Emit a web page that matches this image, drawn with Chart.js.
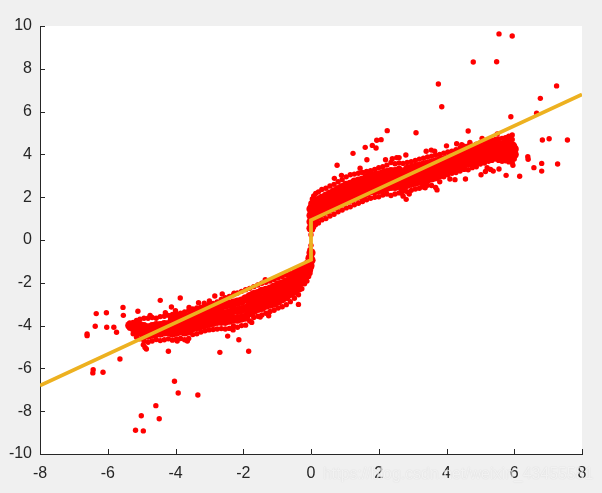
<!DOCTYPE html>
<html>
<head>
<meta charset="utf-8">
<script src="https://cdn.jsdelivr.net/npm/chart.js@4"></script>
<style>
  html, body { margin: 0; padding: 0; background: #f0f0f0; overflow: hidden; }
  #wrap { position: relative; width: 602px; height: 493px; }
  #mark {
    position: absolute; left: 323px; top: 465px; white-space: nowrap;
    font: 15.9px "Liberation Sans", Arial, sans-serif; color: rgba(255,255,255,0.7);
    text-shadow: 0 0 1px rgba(120,120,120,0.3);
  }
</style>
</head>
<body>
<div id="wrap">
  <canvas id="chart" width="602" height="493"></canvas>
  <div id="mark">https://blog.csdn.net/weixin_43455581</div>
</div>
<script>
// ticks
const xTicks = [-8, -6, -4, -2, 0, 2, 4, 6, 8];
const yTicks = [-10, -8, -6, -4, -2, 0, 2, 4, 6, 8, 10];

// fitted line
const lineX = [-8, 0, 0, 8];
const lineY = [-6.8, -0.93, 0.93, 6.8];

// stray points, read one by one (the last ones are bumps on the rim of the cloud)
const strayX = [5.55, 5.94, 4.79, 5.48, 3.76, 3.86, 7.25, 6.77, 6.66, 5.90, 4.64, 3.10, 2.25, 2.07, 1.94, 1.81, 1.92, 1.60, 1.24, 1.65, 0.77, 0.90, 0.69, 2.80, 2.53, 4.69, 5.94, 6.83, 7.03, 7.57, 6.40, 6.41, 6.81, 7.28, 6.58, 6.81, 5.76, 6.16, 4.25, 4.56, 5.02, 5.96, 3.37, 3.72, 2.81, 2.90, 2.68, 5.20, 5.38, 5.55,
  -6.61, -6.61, -6.34, -6.04, -6.37, -6.03, -5.82, -5.74, -5.55, -5.54, -5.11, -4.75, -4.45, -3.86, -4.12, -3.32, -2.84, -2.62, -2.27, -4.90, -4.86, -5.64, -6.43, -6.44, -6.14, -4.21, -2.69, -2.46, -2.13, -1.84, -0.37, -1.25, -4.03, -3.92, -3.34, -4.58, -5.01, -4.48, -5.18, -4.95,
  1.45, 2.20, 2.40, 2.60, 3.40, 3.55, 3.65, 4.00, 4.30, 4.45, 5.05, 5.30, 5.50, 5.82, 2.72, 3.30, 4.10, 5.15, 5.30,
  -4.30, -4.00, -3.60, -3.15, -3.00, -1.35, -4.95, -3.65, -3.95, -2.30, -1.75, -1.50];
const strayY = [9.63, 9.53, 8.32, 8.33, 7.29, 6.23, 7.20, 6.62, 5.92, 5.76, 5.09, 5.01, 5.11, 4.69, 4.66, 4.42, 4.30, 4.33, 4.05, 3.75, 3.49, 3.02, 2.88, 3.97, 3.85, 4.56, 4.91, 4.67, 4.73, 4.67, 3.89, 3.77, 3.58, 3.55, 3.38, 3.22, 3.02, 2.98, 2.82, 2.85, 3.05, 3.49, 2.44, 2.34, 1.90, 2.15, 2.18, 3.38, 3.22, 3.32,
  -4.39, -4.47, -3.44, -3.40, -4.03, -4.08, -4.08, -4.31, -3.15, -3.52, -3.33, -3.52, -2.82, -2.71, -3.13, -2.93, -2.62, -2.52, -2.49, -5.02, -5.09, -5.56, -6.06, -6.21, -6.18, -5.20, -5.25, -4.49, -4.66, -5.20, -3.01, -3.54, -6.60, -7.15, -7.24, -7.74, -8.21, -8.35, -8.89, -8.92,
  3.35, 3.75, 3.80, 3.85, 4.15, 4.20, 4.15, 4.40, 4.50, 4.45, 4.75, 4.70, 4.95, 4.80, 2.30, 2.55, 2.85, 3.20, 3.30,
  -3.40, -3.30, -3.15, -2.95, -2.85, -1.85, -4.90, -4.72, -4.72, -4.20, -3.85, -3.60];

// dense cloud, x>0: one row of y readings per x position
const rightX = [0.00, 0.04, 0.08, 0.14, 0.22, 0.32, 0.44, 0.56, 0.68, 0.80, 0.92, 1.04, 1.16, 1.28, 1.40, 1.52, 1.64, 1.76, 1.88, 2.00, 2.12, 2.24, 2.36, 2.48, 2.60, 2.72, 2.84, 2.96, 3.08, 3.20, 3.32, 3.44, 3.56, 3.68, 3.80, 3.92, 4.04, 4.16, 4.28, 4.40, 4.52, 4.64, 4.76, 4.88, 5.00, 5.12, 5.24, 5.34, 5.44, 5.54, 5.64, 5.74, 5.84, 5.94, 6.00];
const rightY = [
  [0.25, 0.55, 0.85, 1.15, 1.45, 1.72], [0.48, 0.85, 1.2, 1.55, 1.92], [0.62, 1.0, 1.35, 1.7, 2.06],
  [0.72, 1.05, 1.4, 1.75, 2.17], [0.8, 1.15, 1.5, 1.85, 2.25], [0.94, 1.25, 1.6, 1.95, 2.36],
  [1.0, 1.35, 1.7, 2.05, 2.42], [1.12, 1.45, 1.8, 2.15, 2.52], [1.2, 1.55, 1.9, 2.25, 2.6],
  [1.32, 1.65, 2.0, 2.35, 2.72], [1.4, 1.75, 2.1, 2.45, 2.82], [1.5, 1.85, 2.2, 2.55, 2.95],
  [1.55, 1.9, 2.25, 2.6, 3.05], [1.65, 2.0, 2.35, 2.7, 3.08], [1.72, 2.05, 2.4, 2.75, 3.12],
  [1.8, 2.1, 2.45, 2.8, 3.16], [1.88, 2.2, 2.55, 2.9, 3.2], [1.95, 2.3, 2.6, 2.95, 3.24],
  [2.0, 2.3, 2.65, 3.0, 3.3], [2.02, 2.35, 2.7, 3.05, 3.38], [2.1, 2.4, 2.75, 3.1, 3.42],
  [2.15, 2.45, 2.8, 3.15, 3.5], [2.08, 2.5, 2.85, 3.2, 3.62], [2.15, 2.5, 2.85, 3.2, 3.56],
  [2.2, 2.55, 2.9, 3.25, 3.6], [2.05, 2.4, 2.75, 3.1, 3.58], [2.25, 2.6, 2.95, 3.3, 3.62],
  [2.32, 2.65, 3.0, 3.35, 3.66], [2.38, 2.7, 3.05, 3.4, 3.72], [2.42, 2.75, 3.1, 3.45, 3.78],
  [2.48, 2.8, 3.15, 3.5, 3.82], [2.56, 2.85, 3.2, 3.55, 3.88], [2.55, 2.9, 3.25, 3.6, 3.92],
  [2.45, 2.95, 3.3, 3.65, 3.97], [2.72, 3.05, 3.35, 3.7, 4.0], [2.95, 3.15, 3.45, 3.75, 4.06],
  [3.05, 3.25, 3.5, 3.8, 4.12], [3.12, 3.35, 3.6, 3.85, 4.15], [3.15, 3.4, 3.65, 3.95, 4.22],
  [3.22, 3.45, 3.7, 4.0, 4.3], [3.3, 3.55, 3.8, 4.05, 4.38], [3.28, 3.6, 3.85, 4.1, 4.4],
  [3.38, 3.65, 3.9, 4.15, 4.42], [3.42, 3.7, 3.95, 4.2, 4.48], [3.55, 3.75, 4.0, 4.25, 4.55],
  [3.6, 3.8, 4.05, 4.3, 4.58], [3.68, 3.85, 4.1, 4.35, 4.62], [3.72, 3.9, 4.15, 4.4, 4.65],
  [3.78, 3.98, 4.18, 4.45, 4.7], [3.72, 3.95, 4.2, 4.45, 4.72], [3.68, 3.9, 4.15, 4.45, 4.75],
  [3.7, 3.95, 4.2, 4.5, 4.78], [3.65, 3.9, 4.2, 4.5, 4.85], [3.62, 3.9, 4.15, 4.4, 4.7],
  [3.78, 4.0, 4.25, 4.42]
];

// dense cloud, x<0
const leftX = [-5.35, -5.25, -5.15, -5.05, -4.93, -4.81, -4.69, -4.57, -4.45, -4.33, -4.21, -4.09, -3.97, -3.85, -3.73, -3.61, -3.49, -3.37, -3.25, -3.13, -3.01, -2.89, -2.77, -2.65, -2.53, -2.41, -2.29, -2.17, -2.05, -1.93, -1.81, -1.69, -1.57, -1.45, -1.33, -1.21, -1.09, -0.97, -0.85, -0.73, -0.61, -0.49, -0.37, -0.27, -0.19, -0.12, -0.07, -0.03, 0.00];
const leftY = [
  [-4.12, -4.0, -3.88], [-4.38, -4.1, -3.85], [-4.55, -4.25, -3.95, -3.76], [-4.62, -4.3, -4.0, -3.7],
  [-4.72, -4.4, -4.05, -3.66], [-4.78, -4.45, -4.1, -3.66], [-4.72, -4.4, -4.05, -3.62],
  [-4.65, -4.35, -4.0, -3.66], [-4.7, -4.35, -4.0, -3.58], [-4.66, -4.3, -3.95, -3.56],
  [-4.62, -4.3, -3.95, -3.52], [-4.68, -4.35, -4.0, -3.7, -3.48], [-4.62, -4.3, -3.95, -3.65, -3.44],
  [-4.6, -4.25, -3.95, -3.65, -3.42], [-4.66, -4.3, -3.95, -3.65, -3.36], [-4.6, -4.25, -3.9, -3.6, -3.3],
  [-4.42, -4.1, -3.8, -3.5, -3.22], [-4.38, -4.05, -3.75, -3.45, -3.18], [-4.3, -4.0, -3.7, -3.4, -3.14],
  [-4.24, -3.95, -3.65, -3.35, -3.08], [-4.2, -3.9, -3.6, -3.3, -3.02], [-4.18, -3.85, -3.55, -3.25, -2.96],
  [-4.16, -3.8, -3.5, -3.2, -2.9], [-4.14, -3.8, -3.45, -3.1, -2.78], [-4.16, -3.8, -3.45, -3.05, -2.7],
  [-4.13, -3.75, -3.4, -3.0, -2.64], [-4.02, -3.7, -3.3, -2.95, -2.56], [-4.08, -3.7, -3.3, -2.9, -2.48],
  [-4.0, -3.65, -3.25, -2.85, -2.4], [-3.98, -3.6, -3.2, -2.75, -2.32], [-3.78, -3.4, -3.05, -2.65, -2.26],
  [-3.62, -3.3, -2.95, -2.55, -2.18], [-3.56, -3.2, -2.85, -2.5, -2.1], [-3.5, -3.15, -2.8, -2.4, -2.02],
  [-3.42, -3.05, -2.7, -2.35, -1.98], [-3.34, -3.0, -2.65, -2.3, -1.92], [-3.28, -2.95, -2.6, -2.2, -1.84],
  [-3.18, -2.85, -2.5, -2.1, -1.76], [-3.12, -2.75, -2.4, -2.05, -1.7], [-3.02, -2.65, -2.3, -1.95, -1.62],
  [-2.88, -2.5, -2.2, -1.85, -1.56], [-2.72, -2.4, -2.05, -1.75, -1.46], [-2.56, -2.25, -1.95, -1.65, -1.38],
  [-2.28, -1.95, -1.6, -1.28], [-2.05, -1.75, -1.45, -1.18], [-1.92, -1.6, -1.3, -1.06],
  [-1.7, -1.4, -1.1, -0.8], [-1.55, -1.2, -0.85, -0.45], [-1.3, -0.95, -0.6, -0.25]
];

// the first and last reading of a row are the rim of the cloud, the rest fill it
const rimPoints = [], fillPoints = [];
[[rightX, rightY], [leftX, leftY]].forEach(([xs, rows]) => {
  rows.forEach((ys, i) => {
    ys.forEach((y, k) => {
      const p = { x: xs[i], y: y };
      if (k === 0 || k === ys.length - 1) rimPoints.push(p);
      else fillPoints.push(p);
    });
  });
});

// ticks pointing into the plot, matlab style
const insideTicks = {
  id: 'insideTicks',
  beforeDraw(chart) {
    const a = chart.chartArea, c = chart.ctx;
    c.save();
    c.fillStyle = '#ffffff';
    c.fillRect(a.left, a.top, a.right - a.left, a.bottom - a.top);
    c.restore();
  },
  afterDraw(chart) {
    const a = chart.chartArea, c = chart.ctx;
    c.save();
    c.strokeStyle = '#262626';
    c.lineWidth = 1;
    c.beginPath();
    xTicks.forEach(v => {
      const p = Math.round(chart.scales.x.getPixelForValue(v)) + 0.5;
      c.moveTo(p, a.bottom);
      c.lineTo(p, a.bottom - 5);
    });
    yTicks.forEach(v => {
      const p = Math.round(chart.scales.y.getPixelForValue(v)) + 0.5;
      c.moveTo(a.left, p);
      c.lineTo(a.left + 5, p);
    });
    c.stroke();
    c.restore();
  }
};

const tickFont = { family: '"Liberation Sans", Arial, sans-serif', size: 16 };

new Chart(document.getElementById('chart').getContext('2d'), {
  type: 'scatter',
  data: {
    datasets: [
      {
        data: lineX.map((x, i) => ({ x: x, y: lineY[i] })),
        showLine: true, borderColor: '#EDB120', borderWidth: 3.8,
        pointRadius: 0, order: 0, borderJoinStyle: 'miter'
      },
      { data: rimPoints, backgroundColor: '#ff0000', borderWidth: 0, pointRadius: 2.7, order: 1 },
      { data: fillPoints, backgroundColor: '#ff0000', borderWidth: 0, pointRadius: 4.6, order: 2 },
      { data: strayX.map((x, i) => ({ x: x, y: strayY[i] })), backgroundColor: '#ff0000', borderWidth: 0, pointRadius: 2.7, order: 3 }
    ]
  },
  options: {
    responsive: false,
    animation: false,
    devicePixelRatio: 1,
    layout: { padding: { top: 26, right: 20, left: 0, bottom: 0 } },
    plugins: { legend: { display: false }, tooltip: { enabled: false } },
    scales: {
      x: {
        type: 'linear', min: -8, max: 8,
        afterFit: s => { s.height = 39; },
        afterBuildTicks: s => { s.ticks = xTicks.map(v => ({ value: v })); },
        grid: { drawOnChartArea: false, drawTicks: false },
        border: { color: '#262626', width: 1 },
        ticks: { color: '#262626', font: tickFont, padding: 10, maxRotation: 0, autoSkip: false }
      },
      y: {
        type: 'linear', min: -10, max: 10,
        afterFit: s => { s.width = 40; },
        afterBuildTicks: s => { s.ticks = yTicks.map(v => ({ value: v })); },
        grid: { drawOnChartArea: false, drawTicks: false },
        border: { color: '#262626', width: 1 },
        ticks: { color: '#262626', font: tickFont, padding: 8, autoSkip: false }
      }
    }
  },
  plugins: [insideTicks]
});
</script>
</body>
</html>
